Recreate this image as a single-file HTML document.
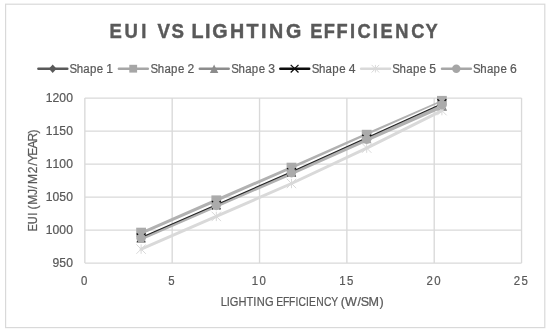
<!DOCTYPE html>
<html lang="en"><head><meta charset="utf-8"><title>EUI vs Lighting Efficiency</title>
<style>html,body{margin:0;padding:0;background:#fff;overflow:hidden}svg{display:block}text{font-family:"Liberation Sans", sans-serif;fill:#595959;white-space:pre;stroke:#595959;stroke-width:0.22px}</style></head><body>
<svg width="550" height="333" viewBox="0 0 550 333">
<rect x="0" y="0" width="550" height="333" fill="#fff"/>
<rect x="5.6" y="4.2" width="539.2" height="323.4" fill="none" stroke="#d9d9d9" stroke-width="1.2"/>
<line x1="84.85" y1="98.05" x2="521.55" y2="98.05" stroke="#d9d9d9" stroke-width="1.35"/>
<line x1="84.85" y1="131.05" x2="521.55" y2="131.05" stroke="#d9d9d9" stroke-width="1.35"/>
<line x1="84.85" y1="164.05" x2="521.55" y2="164.05" stroke="#d9d9d9" stroke-width="1.35"/>
<line x1="84.85" y1="197.05" x2="521.55" y2="197.05" stroke="#d9d9d9" stroke-width="1.35"/>
<line x1="84.85" y1="230.05" x2="521.55" y2="230.05" stroke="#d9d9d9" stroke-width="1.35"/>
<line x1="84.85" y1="263.05" x2="521.55" y2="263.05" stroke="#d9d9d9" stroke-width="1.35"/>
<line x1="84.85" y1="98.05" x2="84.85" y2="263.05" stroke="#d9d9d9" stroke-width="1.35"/>
<line x1="172.19" y1="98.05" x2="172.19" y2="263.05" stroke="#d9d9d9" stroke-width="1.35"/>
<line x1="259.53" y1="98.05" x2="259.53" y2="263.05" stroke="#d9d9d9" stroke-width="1.35"/>
<line x1="346.87" y1="98.05" x2="346.87" y2="263.05" stroke="#d9d9d9" stroke-width="1.35"/>
<line x1="434.21" y1="98.05" x2="434.21" y2="263.05" stroke="#d9d9d9" stroke-width="1.35"/>
<line x1="521.55" y1="98.05" x2="521.55" y2="263.05" stroke="#d9d9d9" stroke-width="1.35"/>
<text transform="translate(0,38.10) scale(0.9089,1)" x="120.57 136.92 155.44" y="0" font-size="20.30" font-weight="bold" style="stroke-width:0.45px">EUI</text>
<text transform="translate(0,38.10) scale(0.9204,1)" x="171.04 186.46" y="0" font-size="20.30" font-weight="bold" style="stroke-width:0.45px">VS</text>
<text transform="translate(0,38.10) scale(0.9712,1)" x="197.29 210.98 218.68 236.79 253.82 268.79 277.05 294.45" y="0" font-size="20.30" font-weight="bold" style="stroke-width:0.45px">LIGHTING</text>
<text transform="translate(0,38.10) scale(0.8979,1)" x="345.49 360.52 374.88 389.82 398.26 415.10 423.68 440.22 458.06 474.01" y="0" font-size="20.30" font-weight="bold" style="stroke-width:0.45px">EFFICIENCY</text>
<line x1="38.4" y1="68.7" x2="67.3" y2="68.7" stroke="#595959" stroke-width="2.5" stroke-linecap="round"/>
<path d="M48.90 68.70 L52.70 64.40 L56.50 68.70 L52.70 73.00Z" fill="#595959"/>
<text transform="translate(0,72.70) scale(0.9210,1)" x="75.39 83.21 90.48 97.75 105.16" y="0" font-size="12.45">Shape</text>
<text transform="translate(0,72.70) scale(0.9760,1)" x="108.99" y="0" font-size="12.45">1</text>
<line x1="118.9" y1="68.7" x2="147.8" y2="68.7" stroke="#a6a6a6" stroke-width="2.5" stroke-linecap="round"/>
<rect x="129.30" y="64.80" width="7.80" height="7.80" fill="#a6a6a6"/>
<text transform="translate(0,72.70) scale(0.9210,1)" x="163.45 171.27 178.54 185.81 193.21" y="0" font-size="12.45">Shape</text>
<text transform="translate(0,72.70) scale(0.9760,1)" x="192.09" y="0" font-size="12.45">2</text>
<line x1="199.8" y1="68.7" x2="228.7" y2="68.7" stroke="#8c8c8c" stroke-width="2.5" stroke-linecap="round"/>
<path d="M209.90 72.90 L214.10 64.50 L218.30 72.90Z" fill="#8c8c8c"/>
<text transform="translate(0,72.70) scale(0.9210,1)" x="251.07 258.89 266.16 273.43 280.83" y="0" font-size="12.45">Shape</text>
<text transform="translate(0,72.70) scale(0.9760,1)" x="274.78" y="0" font-size="12.45">3</text>
<line x1="280.3" y1="68.7" x2="309.2" y2="68.7" stroke="#0d0d0d" stroke-width="2.5" stroke-linecap="round"/>
<path d="M290.70 64.90 L298.50 72.50 M290.70 72.50 L298.50 64.90" stroke="#0d0d0d" stroke-width="1.3" fill="none"/>
<text transform="translate(0,72.70) scale(0.9210,1)" x="338.48 346.29 353.56 360.83 368.24" y="0" font-size="12.45">Shape</text>
<text transform="translate(0,72.70) scale(0.9760,1)" x="357.26" y="0" font-size="12.45">4</text>
<line x1="361.1" y1="68.7" x2="390.0" y2="68.7" stroke="#d9d9d9" stroke-width="2.5" stroke-linecap="round"/>
<path d="M371.60 64.90 L379.20 72.50 M371.60 72.50 L379.20 64.90 M375.40 64.90 L375.40 72.50" stroke="#d9d9d9" stroke-width="1.0" fill="none"/>
<text transform="translate(0,72.70) scale(0.9210,1)" x="425.99 433.81 441.08 448.35 455.75" y="0" font-size="12.45">Shape</text>
<text transform="translate(0,72.70) scale(0.9760,1)" x="439.84" y="0" font-size="12.45">5</text>
<line x1="442.0" y1="68.7" x2="470.9" y2="68.7" stroke="#a6a6a6" stroke-width="2.5" stroke-linecap="round"/>
<circle cx="456.30" cy="68.70" r="4.20" fill="#a6a6a6"/>
<text transform="translate(0,72.70) scale(0.9210,1)" x="513.61 521.43 528.70 535.97 543.37" y="0" font-size="12.45">Shape</text>
<text transform="translate(0,72.70) scale(0.9760,1)" x="522.53" y="0" font-size="12.45">6</text>
<text transform="translate(0,102.30) scale(0.9760,1)" x="47.00 53.92 60.85 67.77" y="0" font-size="12.45">1200</text>
<text transform="translate(0,135.30) scale(0.9760,1)" x="47.00 53.92 60.85 67.77" y="0" font-size="12.45">1150</text>
<text transform="translate(0,168.30) scale(0.9760,1)" x="47.00 53.92 60.85 67.77" y="0" font-size="12.45">1100</text>
<text transform="translate(0,201.30) scale(0.9760,1)" x="47.00 53.92 60.85 67.77" y="0" font-size="12.45">1050</text>
<text transform="translate(0,234.30) scale(0.9760,1)" x="47.00 53.92 60.85 67.77" y="0" font-size="12.45">1000</text>
<text transform="translate(0,267.30) scale(0.9760,1)" x="53.92 60.85 67.77" y="0" font-size="12.45">950</text>
<text transform="translate(0,285.00) scale(0.9174,1)" x="88.32" y="0" font-size="12.45">0</text>
<text transform="translate(0,285.00) scale(0.9174,1)" x="183.52" y="0" font-size="12.45">5</text>
<text transform="translate(0,285.00) scale(0.9174,1)" x="274.50 282.95" y="0" font-size="12.45">10</text>
<text transform="translate(0,285.00) scale(0.9174,1)" x="369.70 378.16" y="0" font-size="12.45">15</text>
<text transform="translate(0,285.00) scale(0.9174,1)" x="464.90 473.36" y="0" font-size="12.45">20</text>
<text transform="translate(0,285.00) scale(0.9174,1)" x="560.11 568.56" y="0" font-size="12.45">25</text>
<text transform="translate(0,306.00) scale(0.8939,1)" x="246.91 253.66 257.13 266.83 275.80 283.39 287.32 296.49" y="0" font-size="12.45">LIGHTING</text>
<text transform="translate(0,306.00) scale(0.8283,1)" x="333.67 341.65 349.04 356.84 360.39 369.48 373.01 381.80 391.28 399.83" y="0" font-size="12.45">EFFICIENCY</text>
<text transform="translate(0,306.00) scale(1.0107,1)" x="337.20 341.27 353.84 356.99 364.63 375.38" y="0" font-size="12.45">(W/SM)</text>
<g transform="translate(37,231) rotate(-90)">
<text transform="translate(0,0.00) scale(0.8877,1)" x="-0.49 7.66 17.13" y="0" font-size="12.45">EUI</text>
<text transform="translate(0,0.00) scale(0.9656,1)" x="22.22 27.11 37.28 43.53 48.65 59.77 67.67 71.28 78.01 85.38 92.78 101.04" y="0" font-size="12.45">(MJ/M2/YEAR)</text>
</g>
<polyline points="141.10,238.80 216.30,206.10 291.50,173.40 366.70,139.80 441.90,106.30" fill="none" stroke="#595959" stroke-width="1.20" stroke-linejoin="round" stroke-linecap="round"/>
<path d="M138.06 238.20 L141.10 234.76 L144.14 238.20 L141.10 241.64Z" fill="#595959"/>
<path d="M213.26 205.50 L216.30 202.06 L219.34 205.50 L216.30 208.94Z" fill="#595959"/>
<path d="M288.46 172.80 L291.50 169.36 L294.54 172.80 L291.50 176.24Z" fill="#595959"/>
<path d="M363.66 139.20 L366.70 135.76 L369.74 139.20 L366.70 142.64Z" fill="#595959"/>
<path d="M438.86 105.70 L441.90 102.26 L444.94 105.70 L441.90 109.14Z" fill="#595959"/>
<polygon points="141.10,231.60 216.30,198.60 291.50,165.90 366.70,132.70 441.90,100.00 441.90,101.80 366.70,135.35 291.50,169.05 216.30,201.95 141.10,234.85" fill="#b1b1b1"/>
<rect x="136.20" y="227.70" width="9.80" height="9.80" fill="#ababab"/>
<rect x="211.40" y="195.40" width="9.80" height="9.80" fill="#ababab"/>
<rect x="286.60" y="162.70" width="9.80" height="9.80" fill="#ababab"/>
<rect x="361.80" y="129.80" width="9.80" height="9.80" fill="#ababab"/>
<rect x="437.00" y="95.90" width="9.80" height="9.80" fill="#ababab"/>
<polyline points="141.10,238.80 216.30,206.10 291.50,173.40 366.70,139.80 441.90,106.30" fill="none" stroke="#8c8c8c" stroke-width="1.20" stroke-linejoin="round" stroke-linecap="round"/>
<path d="M136.30 243.10 L141.10 233.50 L145.90 243.10Z" fill="#a8a8a8"/>
<path d="M211.50 209.60 L216.30 200.00 L221.10 209.60Z" fill="#a8a8a8"/>
<path d="M286.70 176.80 L291.50 167.20 L296.30 176.80Z" fill="#a8a8a8"/>
<path d="M361.90 143.20 L366.70 133.60 L371.50 143.20Z" fill="#a8a8a8"/>
<path d="M437.10 110.80 L441.90 101.20 L446.70 110.80Z" fill="#a8a8a8"/>
<path d="M443.5 110.7 L447.1 110.7 L445.3 107.0Z" fill="#8f8f8f"/>
<polygon points="141.10,237.55 216.30,204.75 291.50,171.80 366.70,137.80 441.90,103.70 441.90,108.60 366.70,141.80 291.50,175.20 216.30,207.80 141.10,240.40" fill="#b1b1b1"/>
<polyline points="141.10,237.55 216.30,204.75 291.50,171.80 366.70,137.80 441.90,103.70" fill="none" stroke="#242424" stroke-width="1.15" stroke-linejoin="round" stroke-linecap="round"/>
<path d="M136.65 233.45 L145.19 241.70 M137.01 241.70 L145.55 233.45" stroke="#0d0d0d" stroke-width="1.2" fill="none"/>
<path d="M211.85 201.05 L220.39 209.30 M212.21 209.30 L220.75 201.05" stroke="#0d0d0d" stroke-width="1.2" fill="none"/>
<path d="M287.05 168.10 L295.59 176.35 M287.41 176.35 L295.95 168.10" stroke="#0d0d0d" stroke-width="1.2" fill="none"/>
<path d="M362.25 134.66 L366.70 139.00 L371.15 134.66" stroke="#0d0d0d" stroke-width="1.3" fill="none"/>
<path d="M437.45 99.26 L441.90 103.60 L446.35 99.26" stroke="#0d0d0d" stroke-width="1.3" fill="none"/>
<polyline points="141.10,249.10 216.30,216.40 291.50,183.50 366.70,148.10 441.90,110.60" fill="none" stroke="#d9d9d9" stroke-width="3.00" stroke-linejoin="round" stroke-linecap="round"/>
<path d="M136.40 244.40 L145.80 253.80 M136.40 253.80 L145.80 244.40 M141.10 244.40 L141.10 253.80" stroke="#d9d9d9" stroke-width="1.0" fill="none"/>
<path d="M211.60 211.70 L221.00 221.10 M211.60 221.10 L221.00 211.70 M216.30 211.70 L216.30 221.10" stroke="#d9d9d9" stroke-width="1.0" fill="none"/>
<path d="M286.80 178.80 L296.20 188.20 M286.80 188.20 L296.20 178.80 M291.50 178.80 L291.50 188.20" stroke="#d9d9d9" stroke-width="1.0" fill="none"/>
<path d="M362.00 143.40 L371.40 152.80 M362.00 152.80 L371.40 143.40 M366.70 143.40 L366.70 152.80" stroke="#d9d9d9" stroke-width="1.0" fill="none"/>
<path d="M437.20 105.90 L446.60 115.30 M437.20 115.30 L446.60 105.90 M441.90 105.90 L441.90 115.30" stroke="#d9d9d9" stroke-width="1.0" fill="none"/>
<circle cx="141.10" cy="238.20" r="4.70" fill="#ababab"/>
<circle cx="216.30" cy="205.50" r="4.70" fill="#ababab"/>
<circle cx="291.50" cy="172.80" r="4.70" fill="#ababab"/>
<circle cx="366.70" cy="139.20" r="4.70" fill="#ababab"/>
<circle cx="441.90" cy="104.70" r="4.70" fill="#ababab"/>
</svg></body></html>
